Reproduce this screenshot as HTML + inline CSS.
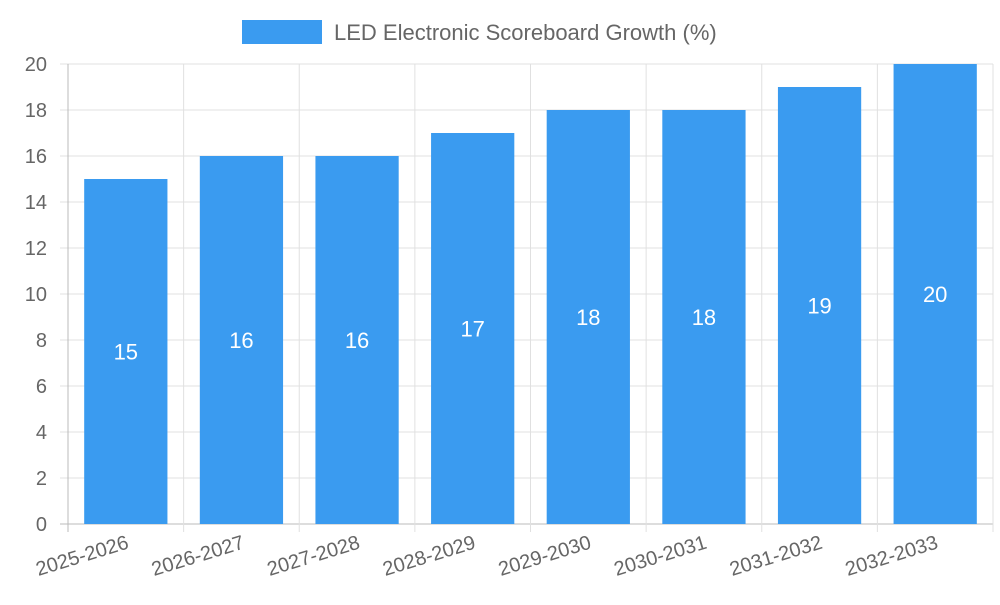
<!DOCTYPE html>
<html><head><meta charset="utf-8"><style>
body{margin:0;background:#fff;}
svg text{font-family:"Liberation Sans",sans-serif;}
</style></head><body>
<svg id="chart" width="1000" height="600" xmlns="http://www.w3.org/2000/svg">
<g id="legend">
<rect x="242" y="20" width="80" height="24" fill="#3a9bf0"></rect>
<text x="334" y="40" font-size="22" fill="#666">LED Electronic Scoreboard Growth (%)</text>
</g>
<g id="grid"></g>
<g id="bars"></g>
<g id="axes"></g>
</svg>
<script>
const categories=["2025-2026","2026-2027","2027-2028","2028-2029","2029-2030","2030-2031","2031-2032","2032-2033"];
const values=[15,16,16,17,18,18,19,20];
const yTicks=[0,2,4,6,8,10,12,14,16,18,20];
const NS="http://www.w3.org/2000/svg";
const L=68,R=993,T=64,B=524,yMax=20;
const band=(R-L)/categories.length;
const y=v=>B-(v/yMax)*(B-T);
const x=i=>L+i*band;
function el(tag,attrs,parent,txt){const e=document.createElementNS(NS,tag);for(const k in attrs)e.setAttribute(k,attrs[k]);if(txt!==undefined)e.textContent=txt;parent.appendChild(e);return e;}
const grid=document.getElementById('grid'),bars=document.getElementById('bars'),axes=document.getElementById('axes');
yTicks.forEach(t=>{
 const ln=el('line',{x1:L-8,x2:R,y1:y(t),y2:y(t),stroke:t===0?'#bbb':'#e0e0e0','stroke-width':1},grid);
 
 
 const tx=el('text',{x:47,y:y(t)+7,'font-size':20,fill:'#666','text-anchor':'end'},axes,String(t));
 
 
});
for(let i=0;i<=categories.length;i++){
 const ln=el('line',{x1:x(i),x2:x(i),y1:T,y2:B+8,stroke:i===0?'#bbb':'#e0e0e0','stroke-width':1},grid);
 
 
}
const bw=band*0.72;
categories.forEach((c,i)=>{
 const cx=x(i)+band/2;
 const r=el('rect',{x:cx-bw/2,y:y(values[i]),width:bw,height:B-y(values[i]),fill:'#3a9bf0'},bars);
 
 
 const v=el('text',{x:cx,y:(y(values[i])+B)/2+8,'font-size':22,fill:'#fff','text-anchor':'middle'},bars,String(values[i]));
 
 
 const lx=cx+4,ly=B+24;
 const t=el('text',{x:lx,y:ly,'font-size':20,fill:'#666','text-anchor':'end',transform:`rotate(-17 ${lx} ${ly})`},axes,c);
 
 
});
</script>
</body></html>
